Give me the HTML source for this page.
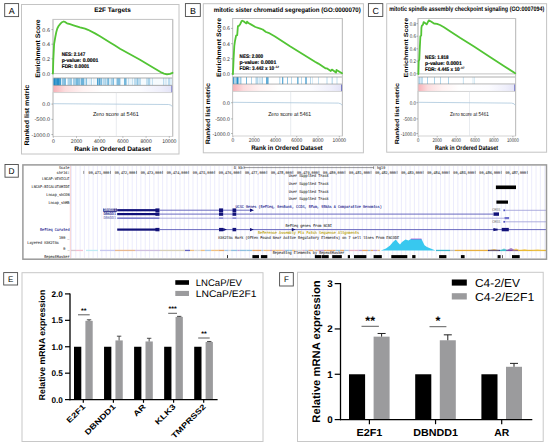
<!DOCTYPE html>
<html><head><meta charset="utf-8"><style>
html,body{margin:0;padding:0;background:#fff;width:550px;height:445px;overflow:hidden}
svg{display:block;font-family:"Liberation Sans", sans-serif;text-rendering:geometricPrecision}
</style></head><body>
<svg width="550" height="445" viewBox="0 0 550 445">
<rect width="550" height="445" fill="#fff"/>
<rect x="21.50" y="4.50" width="157.50" height="149.50" fill="#fff" stroke="#c4c4c4" stroke-width="1"/>
<rect x="4.70" y="3.60" width="13.90" height="13.00" fill="#fff" stroke="#4a4a4a" stroke-width="0.9"/>
<text x="11.65" y="13.60" font-size="8.9" text-anchor="middle" fill="#000">A</text>
<text x="94.20" y="12.20" font-size="6.4" text-anchor="start" font-weight="bold" fill="#000" textLength="36.60" lengthAdjust="spacingAndGlyphs">E2F Targets</text>
<rect x="53.00" y="19.40" width="119.70" height="54.20" fill="#fff" stroke="#c2c2c2" stroke-width="1"/>
<rect x="53.00" y="78.00" width="119.70" height="7.40" fill="#fff"/>
<rect x="52.90" y="78.00" width="2.10" height="7.40" fill="#1e8ac6"/>
<rect x="55.00" y="78.00" width="2.00" height="7.40" fill="#3f9bce"/>
<rect x="57.00" y="78.00" width="2.00" height="7.40" fill="#298fc8"/>
<rect x="59.00" y="78.00" width="2.00" height="7.40" fill="#4aa1d1"/>
<rect x="61.00" y="78.00" width="1.00" height="7.40" fill="#d9ebf6"/>
<rect x="62.00" y="78.00" width="2.00" height="7.40" fill="#90c5e3"/>
<rect x="64.00" y="78.00" width="2.00" height="7.40" fill="#7ebcdf"/>
<rect x="66.00" y="78.00" width="1.50" height="7.40" fill="#fafdff"/>
<rect x="67.50" y="78.00" width="2.50" height="7.40" fill="#aad3ea"/>
<rect x="70.00" y="78.00" width="2.00" height="7.40" fill="#99cae5"/>
<rect x="72.00" y="78.00" width="1.00" height="7.40" fill="#f1f8fc"/>
<rect x="73.00" y="78.00" width="3.00" height="7.40" fill="#a2cfe8"/>
<rect x="76.00" y="78.00" width="2.00" height="7.40" fill="#75b8dc"/>
<rect x="78.00" y="78.00" width="2.00" height="7.40" fill="#87c1e1"/>
<rect x="80.00" y="78.00" width="1.00" height="7.40" fill="#bcdcef"/>
<rect x="81.00" y="78.00" width="3.00" height="7.40" fill="#6db3da"/>
<rect x="84.00" y="78.00" width="2.00" height="7.40" fill="#c5e1f1"/>
<rect x="86.00" y="78.00" width="1.00" height="7.40" fill="#87c1e1"/>
<rect x="87.00" y="78.00" width="1.50" height="7.40" fill="#e8f3fa"/>
<rect x="88.50" y="78.00" width="2.50" height="7.40" fill="#e4f1f9"/>
<rect x="91.00" y="78.00" width="1.00" height="7.40" fill="#b3d8ec"/>
<rect x="92.00" y="78.00" width="1.50" height="7.40" fill="#fafdff"/>
<rect x="93.50" y="78.00" width="1.00" height="7.40" fill="#c5e1f1"/>
<rect x="94.50" y="78.00" width="2.50" height="7.40" fill="#f1f8fc"/>
<rect x="97.00" y="78.00" width="1.00" height="7.40" fill="#4aa1d1"/>
<rect x="98.00" y="78.00" width="1.00" height="7.40" fill="#90c5e3"/>
<rect x="99.00" y="78.00" width="1.50" height="7.40" fill="#52a5d3"/>
<rect x="100.50" y="78.00" width="2.00" height="7.40" fill="#7ebcdf"/>
<rect x="102.50" y="78.00" width="1.00" height="7.40" fill="#f1f8fc"/>
<rect x="103.50" y="78.00" width="1.00" height="7.40" fill="#75b8dc"/>
<rect x="104.50" y="78.00" width="1.00" height="7.40" fill="#bcdcef"/>
<rect x="105.50" y="78.00" width="1.00" height="7.40" fill="#75b8dc"/>
<rect x="106.50" y="78.00" width="0.50" height="7.40" fill="#d6eaf5"/>
<rect x="107.00" y="78.00" width="1.00" height="7.40" fill="#90c5e3"/>
<rect x="108.00" y="78.00" width="1.00" height="7.40" fill="#75b8dc"/>
<rect x="109.00" y="78.00" width="2.00" height="7.40" fill="#d6eaf5"/>
<rect x="111.00" y="78.00" width="2.00" height="7.40" fill="#aad3ea"/>
<rect x="113.00" y="78.00" width="1.00" height="7.40" fill="#7ebcdf"/>
<rect x="114.00" y="78.00" width="2.00" height="7.40" fill="#f1f8fc"/>
<rect x="116.00" y="78.00" width="1.00" height="7.40" fill="#bcdcef"/>
<rect x="117.00" y="78.00" width="3.00" height="7.40" fill="#7ebcdf"/>
<rect x="120.00" y="78.00" width="1.00" height="7.40" fill="#c5e1f1"/>
<rect x="121.00" y="78.00" width="3.00" height="7.40" fill="#f6fbfe"/>
<rect x="124.00" y="78.00" width="2.00" height="7.40" fill="#75b8dc"/>
<rect x="126.00" y="78.00" width="1.00" height="7.40" fill="#aad3ea"/>
<rect x="127.00" y="78.00" width="1.00" height="7.40" fill="#f1f8fc"/>
<rect x="128.00" y="78.00" width="1.00" height="7.40" fill="#c5e1f1"/>
<rect x="129.00" y="78.00" width="3.00" height="7.40" fill="#ebf5fb"/>
<rect x="132.00" y="78.00" width="1.00" height="7.40" fill="#c5e1f1"/>
<rect x="133.00" y="78.00" width="1.00" height="7.40" fill="#f1f8fc"/>
<rect x="134.00" y="78.00" width="3.00" height="7.40" fill="#bcdcef"/>
<rect x="137.00" y="78.00" width="1.00" height="7.40" fill="#90c5e3"/>
<rect x="138.00" y="78.00" width="3.00" height="7.40" fill="#bcdcef"/>
<rect x="141.00" y="78.00" width="5.00" height="7.40" fill="#f6fbfe"/>
<rect x="146.00" y="78.00" width="2.00" height="7.40" fill="#c5e1f1"/>
<rect x="148.00" y="78.00" width="2.50" height="7.40" fill="#aad3ea"/>
<rect x="150.50" y="78.00" width="1.50" height="7.40" fill="#f1f8fc"/>
<rect x="152.00" y="78.00" width="1.00" height="7.40" fill="#c5e1f1"/>
<rect x="153.00" y="78.00" width="10.00" height="7.40" fill="#f6fbfe"/>
<rect x="163.00" y="78.00" width="1.50" height="7.40" fill="#bcdcef"/>
<rect x="164.50" y="78.00" width="1.00" height="7.40" fill="#f1f8fc"/>
<rect x="165.50" y="78.00" width="1.00" height="7.40" fill="#bcdcef"/>
<rect x="167.00" y="78.00" width="1.00" height="7.40" fill="#f1f8fc"/>
<rect x="168.00" y="78.00" width="2.00" height="7.40" fill="#bcdcef"/>
<rect x="170.00" y="78.00" width="2.60" height="7.40" fill="#dfeff8"/>
<line x1="53.00" y1="78.00" x2="172.70" y2="78.00" stroke="#9a9a9a" stroke-width="0.8"/>
<line x1="53.00" y1="85.40" x2="172.70" y2="85.40" stroke="#808080" stroke-width="0.8"/>
<defs><linearGradient id="Ag" x1="0" x2="1" y1="0" y2="0"><stop offset="0" stop-color="#f7b0b6"/><stop offset="0.1" stop-color="#fcdcde"/><stop offset="0.25" stop-color="#fff3f3"/><stop offset="0.42" stop-color="#ffffff"/><stop offset="0.72" stop-color="#fcfcff"/><stop offset="0.9" stop-color="#efeffb"/><stop offset="1" stop-color="#e2e2f6"/></linearGradient></defs>
<rect x="53.00" y="85.80" width="119.70" height="6.80" fill="url(#Ag)"/>
<rect x="171.50" y="85.80" width="1.20" height="6.80" fill="#5050b8"/>
<rect x="53.00" y="92.60" width="119.70" height="43.80" fill="none" stroke="#cfcfcf" stroke-width="0.9"/>
<line x1="53.00" y1="19.40" x2="53.00" y2="136.40" stroke="#c8c8c8" stroke-width="1"/>
<line x1="172.70" y1="19.40" x2="172.70" y2="136.40" stroke="#c2c2c2" stroke-width="1.1"/>
<line x1="116.30" y1="92.60" x2="116.30" y2="136.40" stroke="#d8dde4" stroke-width="0.6"/>
<path d="M53.00,103.70 L168.70,104.50 Q171.70,104.70 172.40,106.80" fill="none" stroke="#a9c6dc" stroke-width="0.8"/>
<text x="92.90" y="116.40" font-size="5.8" text-anchor="start" fill="#111" textLength="45.90" lengthAdjust="spacingAndGlyphs">Zero score at 5461</text>
<line x1="51.40" y1="29.60" x2="53.00" y2="29.60" stroke="#777" stroke-width="0.5"/>
<text x="49.90" y="31.60" font-size="5.4" text-anchor="end" fill="#333" textLength="7.51" lengthAdjust="spacingAndGlyphs">0.6</text>
<line x1="51.40" y1="44.20" x2="53.00" y2="44.20" stroke="#777" stroke-width="0.5"/>
<text x="49.90" y="46.20" font-size="5.4" text-anchor="end" fill="#333" textLength="7.51" lengthAdjust="spacingAndGlyphs">0.4</text>
<line x1="51.40" y1="58.80" x2="53.00" y2="58.80" stroke="#777" stroke-width="0.5"/>
<text x="49.90" y="60.80" font-size="5.4" text-anchor="end" fill="#333" textLength="7.51" lengthAdjust="spacingAndGlyphs">0.2</text>
<line x1="51.40" y1="73.50" x2="53.00" y2="73.50" stroke="#777" stroke-width="0.5"/>
<text x="49.90" y="75.50" font-size="5.4" text-anchor="end" fill="#333" textLength="7.51" lengthAdjust="spacingAndGlyphs">0.0</text>
<line x1="51.40" y1="104.10" x2="53.00" y2="104.10" stroke="#777" stroke-width="0.5"/>
<text x="49.90" y="106.10" font-size="5.4" text-anchor="end" fill="#333" textLength="7.51" lengthAdjust="spacingAndGlyphs">0.0</text>
<line x1="51.40" y1="119.40" x2="53.00" y2="119.40" stroke="#777" stroke-width="0.5"/>
<text x="49.90" y="121.40" font-size="5.4" text-anchor="end" fill="#333" textLength="15.31" lengthAdjust="spacingAndGlyphs">-500.0</text>
<line x1="51.40" y1="134.50" x2="53.00" y2="134.50" stroke="#777" stroke-width="0.5"/>
<text x="49.90" y="136.50" font-size="5.4" text-anchor="end" fill="#333" textLength="18.31" lengthAdjust="spacingAndGlyphs">-1000.0</text>
<line x1="53.30" y1="136.40" x2="53.30" y2="137.80" stroke="#777" stroke-width="0.5"/>
<text x="53.30" y="143.40" font-size="5.4" text-anchor="middle" fill="#333" textLength="2.85" lengthAdjust="spacingAndGlyphs">0</text>
<line x1="76.50" y1="136.40" x2="76.50" y2="137.80" stroke="#777" stroke-width="0.5"/>
<text x="76.50" y="143.40" font-size="5.4" text-anchor="middle" fill="#333" textLength="11.41" lengthAdjust="spacingAndGlyphs">2000</text>
<line x1="99.70" y1="136.40" x2="99.70" y2="137.80" stroke="#777" stroke-width="0.5"/>
<text x="99.70" y="143.40" font-size="5.4" text-anchor="middle" fill="#333" textLength="11.41" lengthAdjust="spacingAndGlyphs">4000</text>
<line x1="122.90" y1="136.40" x2="122.90" y2="137.80" stroke="#777" stroke-width="0.5"/>
<text x="122.90" y="143.40" font-size="5.4" text-anchor="middle" fill="#333" textLength="11.41" lengthAdjust="spacingAndGlyphs">6000</text>
<line x1="146.10" y1="136.40" x2="146.10" y2="137.80" stroke="#777" stroke-width="0.5"/>
<text x="146.10" y="143.40" font-size="5.4" text-anchor="middle" fill="#333" textLength="11.41" lengthAdjust="spacingAndGlyphs">8000</text>
<line x1="169.30" y1="136.40" x2="169.30" y2="137.80" stroke="#777" stroke-width="0.5"/>
<text x="169.30" y="143.40" font-size="5.4" text-anchor="middle" fill="#333" textLength="14.26" lengthAdjust="spacingAndGlyphs">10000</text>
<text x="74.20" y="150.60" font-size="6.6" text-anchor="start" font-weight="bold" fill="#000" textLength="76.70" lengthAdjust="spacingAndGlyphs">Rank in Ordered Dataset</text>
<g transform="translate(39.80 48.60) scale(1.000 1) rotate(-90)">
<text x="0.00" y="0.00" font-size="6.6" text-anchor="middle" font-weight="bold" fill="#000" textLength="58.40" lengthAdjust="spacingAndGlyphs">Enrichment Score</text>
</g>
<g transform="translate(29.00 115.10) scale(1.000 1) rotate(-90)">
<text x="0.00" y="0.00" font-size="6.6" text-anchor="middle" font-weight="bold" fill="#000" textLength="60.80" lengthAdjust="spacingAndGlyphs">Ranked list metric</text>
</g>
<polyline points="52.90,73.50 53.30,60.00 54.10,44.20 55.30,37.00 56.30,32.00 57.30,28.50 58.60,26.00 60.50,23.60 62.00,22.20 63.60,21.50 65.00,21.90 67.00,23.30 70.00,24.20 73.50,25.30 80.00,27.30 85.00,28.60 88.00,29.80 95.00,33.40 100.00,36.30 110.00,42.50 115.00,45.60 120.00,48.70 130.00,54.30 140.00,59.80 150.00,65.70 161.80,72.70 164.00,73.60 167.00,74.30 170.00,73.80 172.50,72.80" fill="none" stroke="#52c434" stroke-width="1.8" stroke-linejoin="round" stroke-linecap="round"/>
<text x="61.70" y="56.40" font-size="5.2" text-anchor="start" font-weight="bold" fill="#000" textLength="23.50" lengthAdjust="spacingAndGlyphs" stroke="#000" stroke-width="0.15">NES: 2.147</text>
<text x="61.70" y="62.40" font-size="5.2" text-anchor="start" font-weight="bold" fill="#000" textLength="36.70" lengthAdjust="spacingAndGlyphs" stroke="#000" stroke-width="0.15">p-value: 0.0001</text>
<text x="61.70" y="68.00" font-size="5.2" text-anchor="start" font-weight="bold" fill="#000" textLength="27.60" lengthAdjust="spacingAndGlyphs" stroke="#000" stroke-width="0.15">FDR: 0.0001</text>
<rect x="203.30" y="3.70" width="160.10" height="149.10" fill="#fff" stroke="#c4c4c4" stroke-width="1"/>
<rect x="185.40" y="3.60" width="14.90" height="12.90" fill="#fff" stroke="#4a4a4a" stroke-width="0.9"/>
<text x="192.85" y="13.50" font-size="8.9" text-anchor="middle" fill="#000">B</text>
<text x="213.70" y="11.60" font-size="6.6" text-anchor="start" font-weight="bold" fill="#000" textLength="147.10" lengthAdjust="spacingAndGlyphs">mitotic sister chromatid segregation (GO:0000070)</text>
<rect x="232.60" y="18.50" width="109.80" height="55.40" fill="#fff" stroke="#c2c2c2" stroke-width="1"/>
<rect x="232.60" y="77.00" width="109.80" height="7.20" fill="#fff"/>
<rect x="232.60" y="77.00" width="1.60" height="7.20" fill="#3495cb"/>
<rect x="234.20" y="77.00" width="0.50" height="7.20" fill="#76b8dc"/>
<rect x="234.70" y="77.00" width="1.80" height="7.20" fill="#add4eb"/>
<rect x="236.50" y="77.00" width="2.20" height="7.20" fill="#298fc8"/>
<rect x="238.70" y="77.00" width="1.30" height="7.20" fill="#d9ebf6"/>
<rect x="240.00" y="77.00" width="1.50" height="7.20" fill="#a2cfe8"/>
<rect x="246.00" y="77.00" width="1.00" height="7.20" fill="#76b8dc"/>
<rect x="251.00" y="77.00" width="1.00" height="7.20" fill="#add4eb"/>
<rect x="255.00" y="77.00" width="1.00" height="7.20" fill="#d9ebf6"/>
<rect x="256.00" y="77.00" width="2.00" height="7.20" fill="#b8daed"/>
<rect x="258.00" y="77.00" width="1.50" height="7.20" fill="#e4f1f9"/>
<rect x="259.50" y="77.00" width="1.00" height="7.20" fill="#b8daed"/>
<rect x="260.50" y="77.00" width="1.50" height="7.20" fill="#d9ebf6"/>
<rect x="262.00" y="77.00" width="1.00" height="7.20" fill="#add4eb"/>
<rect x="266.00" y="77.00" width="2.00" height="7.20" fill="#60acd7"/>
<rect x="268.00" y="77.00" width="0.80" height="7.20" fill="#8cc3e2"/>
<rect x="279.00" y="77.00" width="1.00" height="7.20" fill="#c3e0f0"/>
<rect x="280.00" y="77.00" width="1.00" height="7.20" fill="#e4f1f9"/>
<rect x="282.00" y="77.00" width="1.30" height="7.20" fill="#60acd7"/>
<rect x="287.00" y="77.00" width="1.00" height="7.20" fill="#8cc3e2"/>
<rect x="291.00" y="77.00" width="1.00" height="7.20" fill="#b8daed"/>
<rect x="297.00" y="77.00" width="1.60" height="7.20" fill="#76b8dc"/>
<rect x="301.00" y="77.00" width="1.00" height="7.20" fill="#b8daed"/>
<rect x="305.20" y="77.00" width="1.60" height="7.20" fill="#60acd7"/>
<rect x="310.00" y="77.00" width="1.00" height="7.20" fill="#b8daed"/>
<rect x="312.00" y="77.00" width="1.00" height="7.20" fill="#d9ebf6"/>
<rect x="318.00" y="77.00" width="1.00" height="7.20" fill="#c3e0f0"/>
<rect x="326.50" y="77.00" width="1.00" height="7.20" fill="#b8daed"/>
<rect x="331.50" y="77.00" width="1.50" height="7.20" fill="#c3e0f0"/>
<rect x="336.50" y="77.00" width="1.00" height="7.20" fill="#c3e0f0"/>
<line x1="232.60" y1="77.00" x2="342.40" y2="77.00" stroke="#9a9a9a" stroke-width="0.8"/>
<line x1="232.60" y1="84.20" x2="342.40" y2="84.20" stroke="#808080" stroke-width="0.8"/>
<defs><linearGradient id="Bg" x1="0" x2="1" y1="0" y2="0"><stop offset="0" stop-color="#f7b0b6"/><stop offset="0.1" stop-color="#fcdcde"/><stop offset="0.25" stop-color="#fff3f3"/><stop offset="0.42" stop-color="#ffffff"/><stop offset="0.72" stop-color="#fcfcff"/><stop offset="0.9" stop-color="#efeffb"/><stop offset="1" stop-color="#e2e2f6"/></linearGradient></defs>
<rect x="232.60" y="84.60" width="109.80" height="6.80" fill="url(#Bg)"/>
<rect x="341.20" y="84.60" width="1.20" height="6.80" fill="#5050b8"/>
<rect x="232.60" y="91.40" width="109.80" height="44.60" fill="none" stroke="#cfcfcf" stroke-width="0.9"/>
<line x1="232.60" y1="18.50" x2="232.60" y2="136.00" stroke="#c8c8c8" stroke-width="1"/>
<line x1="342.40" y1="18.50" x2="342.40" y2="136.00" stroke="#c2c2c2" stroke-width="1.1"/>
<line x1="290.70" y1="91.40" x2="290.70" y2="136.00" stroke="#d8dde4" stroke-width="0.6"/>
<path d="M232.60,102.30 L338.40,103.10 Q341.40,103.30 342.10,105.40" fill="none" stroke="#a9c6dc" stroke-width="0.8"/>
<text x="268.20" y="116.00" font-size="5.8" text-anchor="start" fill="#111" textLength="43.00" lengthAdjust="spacingAndGlyphs">Zero score at 5461</text>
<line x1="231.00" y1="28.40" x2="232.60" y2="28.40" stroke="#777" stroke-width="0.5"/>
<text x="229.79" y="30.40" font-size="5.4" text-anchor="end" fill="#333" textLength="7.13" lengthAdjust="spacingAndGlyphs">0.6</text>
<line x1="231.00" y1="43.70" x2="232.60" y2="43.70" stroke="#777" stroke-width="0.5"/>
<text x="229.79" y="45.70" font-size="5.4" text-anchor="end" fill="#333" textLength="7.13" lengthAdjust="spacingAndGlyphs">0.4</text>
<line x1="231.00" y1="58.80" x2="232.60" y2="58.80" stroke="#777" stroke-width="0.5"/>
<text x="229.79" y="60.80" font-size="5.4" text-anchor="end" fill="#333" textLength="7.13" lengthAdjust="spacingAndGlyphs">0.2</text>
<line x1="231.00" y1="73.90" x2="232.60" y2="73.90" stroke="#777" stroke-width="0.5"/>
<text x="229.79" y="75.90" font-size="5.4" text-anchor="end" fill="#333" textLength="7.13" lengthAdjust="spacingAndGlyphs">0.0</text>
<line x1="231.00" y1="102.70" x2="232.60" y2="102.70" stroke="#777" stroke-width="0.5"/>
<text x="229.79" y="104.70" font-size="5.4" text-anchor="end" fill="#333" textLength="7.13" lengthAdjust="spacingAndGlyphs">0.0</text>
<line x1="231.00" y1="118.90" x2="232.60" y2="118.90" stroke="#777" stroke-width="0.5"/>
<text x="229.79" y="120.90" font-size="5.4" text-anchor="end" fill="#333" textLength="14.54" lengthAdjust="spacingAndGlyphs">-500.0</text>
<line x1="231.00" y1="133.50" x2="232.60" y2="133.50" stroke="#777" stroke-width="0.5"/>
<text x="229.79" y="135.50" font-size="5.4" text-anchor="end" fill="#333" textLength="17.40" lengthAdjust="spacingAndGlyphs">-1000.0</text>
<line x1="232.90" y1="136.00" x2="232.90" y2="137.40" stroke="#777" stroke-width="0.5"/>
<text x="232.90" y="142.20" font-size="5.4" text-anchor="middle" fill="#333" textLength="2.71" lengthAdjust="spacingAndGlyphs">0</text>
<line x1="254.18" y1="136.00" x2="254.18" y2="137.40" stroke="#777" stroke-width="0.5"/>
<text x="254.18" y="142.20" font-size="5.4" text-anchor="middle" fill="#333" textLength="10.84" lengthAdjust="spacingAndGlyphs">2000</text>
<line x1="275.46" y1="136.00" x2="275.46" y2="137.40" stroke="#777" stroke-width="0.5"/>
<text x="275.46" y="142.20" font-size="5.4" text-anchor="middle" fill="#333" textLength="10.84" lengthAdjust="spacingAndGlyphs">4000</text>
<line x1="296.74" y1="136.00" x2="296.74" y2="137.40" stroke="#777" stroke-width="0.5"/>
<text x="296.74" y="142.20" font-size="5.4" text-anchor="middle" fill="#333" textLength="10.84" lengthAdjust="spacingAndGlyphs">6000</text>
<line x1="318.02" y1="136.00" x2="318.02" y2="137.40" stroke="#777" stroke-width="0.5"/>
<text x="318.02" y="142.20" font-size="5.4" text-anchor="middle" fill="#333" textLength="10.84" lengthAdjust="spacingAndGlyphs">8000</text>
<line x1="339.30" y1="136.00" x2="339.30" y2="137.40" stroke="#777" stroke-width="0.5"/>
<text x="339.30" y="142.20" font-size="5.4" text-anchor="middle" fill="#333" textLength="13.55" lengthAdjust="spacingAndGlyphs">10000</text>
<text x="251.20" y="149.50" font-size="6.6" text-anchor="start" font-weight="bold" fill="#000" textLength="71.40" lengthAdjust="spacingAndGlyphs">Rank in Ordered Dataset</text>
<g transform="translate(220.50 47.45) scale(0.970 1) rotate(-90)">
<text x="0.00" y="0.00" font-size="6.6" text-anchor="middle" font-weight="bold" fill="#000" textLength="59.10" lengthAdjust="spacingAndGlyphs">Enrichment Score</text>
</g>
<g transform="translate(210.40 113.70) scale(0.970 1) rotate(-90)">
<text x="0.00" y="0.00" font-size="6.6" text-anchor="middle" font-weight="bold" fill="#000" textLength="61.20" lengthAdjust="spacingAndGlyphs">Ranked list metric</text>
</g>
<polyline points="232.90,74.10 233.30,66.00 233.60,58.50 234.30,46.00 235.00,41.00 236.10,35.60 237.20,35.20 237.90,26.20 239.00,25.80 240.20,24.20 241.50,21.30 242.30,20.70 243.50,21.30 245.10,22.50 246.40,23.40 247.00,21.70 248.40,23.00 251.30,24.60 255.40,27.00 260.30,28.70 262.70,29.50 266.00,32.00 268.50,32.80 275.00,36.50 290.00,46.30 315.00,61.70 318.30,63.60 325.40,68.30 326.70,68.30 330.80,71.00 331.90,69.60 336.00,72.60 336.50,69.90 342.00,73.30" fill="none" stroke="#52c434" stroke-width="1.8" stroke-linejoin="round" stroke-linecap="round"/>
<text x="239.60" y="58.20" font-size="5.2" text-anchor="start" font-weight="bold" fill="#000" textLength="23.50" lengthAdjust="spacingAndGlyphs" stroke="#000" stroke-width="0.15">NES: 2.000</text>
<text x="239.60" y="64.00" font-size="5.2" text-anchor="start" font-weight="bold" fill="#000" textLength="36.70" lengthAdjust="spacingAndGlyphs" stroke="#000" stroke-width="0.15">p-value: 0.0001</text>
<text x="239.60" y="69.60" font-size="5.2" text-anchor="start" font-weight="bold" fill="#000" textLength="34.50" lengthAdjust="spacingAndGlyphs" stroke="#000" stroke-width="0.15">FDR: 3.442 x 10</text>
<text x="274.40" y="67.60" font-size="3.2" text-anchor="start" font-weight="bold" fill="#000">-12</text>
<rect x="386.70" y="3.70" width="159.90" height="148.50" fill="#fff" stroke="#c4c4c4" stroke-width="1"/>
<rect x="368.40" y="3.60" width="14.40" height="12.90" fill="#fff" stroke="#4a4a4a" stroke-width="0.9"/>
<text x="375.60" y="13.50" font-size="8.9" text-anchor="middle" fill="#000">C</text>
<text x="389.30" y="11.40" font-size="6.5" text-anchor="start" font-weight="bold" fill="#000" textLength="155.00" lengthAdjust="spacingAndGlyphs">mitotic spindle assembly checkpoint signaling (GO:0007094)</text>
<rect x="418.00" y="18.50" width="97.60" height="55.40" fill="#fff" stroke="#c2c2c2" stroke-width="1"/>
<rect x="418.00" y="77.00" width="97.60" height="7.10" fill="#fff"/>
<rect x="418.20" y="77.00" width="1.80" height="7.10" fill="#add4eb"/>
<rect x="420.00" y="77.00" width="1.00" height="7.10" fill="#d9ebf6"/>
<rect x="421.00" y="77.00" width="2.00" height="7.10" fill="#c3e0f0"/>
<rect x="427.00" y="77.00" width="1.00" height="7.10" fill="#add4eb"/>
<rect x="434.00" y="77.00" width="1.00" height="7.10" fill="#add4eb"/>
<rect x="440.00" y="77.00" width="0.80" height="7.10" fill="#a2cfe8"/>
<rect x="448.00" y="77.00" width="1.00" height="7.10" fill="#add4eb"/>
<rect x="462.90" y="77.00" width="0.70" height="7.10" fill="#add4eb"/>
<rect x="472.60" y="77.00" width="0.80" height="7.10" fill="#cee6f3"/>
<rect x="474.20" y="77.00" width="0.80" height="7.10" fill="#cee6f3"/>
<line x1="418.00" y1="77.00" x2="515.60" y2="77.00" stroke="#9a9a9a" stroke-width="0.8"/>
<line x1="418.00" y1="84.10" x2="515.60" y2="84.10" stroke="#808080" stroke-width="0.8"/>
<defs><linearGradient id="Cg" x1="0" x2="1" y1="0" y2="0"><stop offset="0" stop-color="#f7b0b6"/><stop offset="0.1" stop-color="#fcdcde"/><stop offset="0.25" stop-color="#fff3f3"/><stop offset="0.42" stop-color="#ffffff"/><stop offset="0.72" stop-color="#fcfcff"/><stop offset="0.9" stop-color="#efeffb"/><stop offset="1" stop-color="#e2e2f6"/></linearGradient></defs>
<rect x="418.00" y="84.50" width="97.60" height="6.90" fill="url(#Cg)"/>
<rect x="514.40" y="84.50" width="1.20" height="6.90" fill="#5050b8"/>
<rect x="418.00" y="91.40" width="97.60" height="44.60" fill="none" stroke="#cfcfcf" stroke-width="0.9"/>
<line x1="418.00" y1="18.50" x2="418.00" y2="136.00" stroke="#c8c8c8" stroke-width="1"/>
<line x1="515.60" y1="18.50" x2="515.60" y2="136.00" stroke="#c2c2c2" stroke-width="1.1"/>
<line x1="469.50" y1="91.40" x2="469.50" y2="136.00" stroke="#d8dde4" stroke-width="0.6"/>
<path d="M418.00,102.30 L511.60,103.10 Q514.60,103.30 515.30,105.40" fill="none" stroke="#a9c6dc" stroke-width="0.8"/>
<text x="450.00" y="116.00" font-size="5.8" text-anchor="start" fill="#111" textLength="38.80" lengthAdjust="spacingAndGlyphs">Zero score at 5461</text>
<line x1="416.40" y1="23.60" x2="418.00" y2="23.60" stroke="#777" stroke-width="0.5"/>
<text x="415.90" y="25.60" font-size="5.4" text-anchor="end" fill="#333" textLength="6.23" lengthAdjust="spacingAndGlyphs">0.8</text>
<line x1="416.40" y1="36.20" x2="418.00" y2="36.20" stroke="#777" stroke-width="0.5"/>
<text x="415.90" y="38.20" font-size="5.4" text-anchor="end" fill="#333" textLength="6.23" lengthAdjust="spacingAndGlyphs">0.6</text>
<line x1="416.40" y1="48.80" x2="418.00" y2="48.80" stroke="#777" stroke-width="0.5"/>
<text x="415.90" y="50.80" font-size="5.4" text-anchor="end" fill="#333" textLength="6.23" lengthAdjust="spacingAndGlyphs">0.4</text>
<line x1="416.40" y1="61.10" x2="418.00" y2="61.10" stroke="#777" stroke-width="0.5"/>
<text x="415.90" y="63.10" font-size="5.4" text-anchor="end" fill="#333" textLength="6.23" lengthAdjust="spacingAndGlyphs">0.2</text>
<line x1="416.40" y1="73.70" x2="418.00" y2="73.70" stroke="#777" stroke-width="0.5"/>
<text x="415.90" y="75.70" font-size="5.4" text-anchor="end" fill="#333" textLength="6.23" lengthAdjust="spacingAndGlyphs">0.0</text>
<line x1="416.40" y1="102.70" x2="418.00" y2="102.70" stroke="#777" stroke-width="0.5"/>
<text x="415.90" y="104.70" font-size="5.4" text-anchor="end" fill="#333" textLength="6.23" lengthAdjust="spacingAndGlyphs">0.0</text>
<line x1="416.40" y1="118.90" x2="418.00" y2="118.90" stroke="#777" stroke-width="0.5"/>
<text x="415.90" y="120.90" font-size="5.4" text-anchor="end" fill="#333" textLength="12.71" lengthAdjust="spacingAndGlyphs">-500.0</text>
<line x1="416.40" y1="133.50" x2="418.00" y2="133.50" stroke="#777" stroke-width="0.5"/>
<text x="415.90" y="135.50" font-size="5.4" text-anchor="end" fill="#333" textLength="15.20" lengthAdjust="spacingAndGlyphs">-1000.0</text>
<line x1="418.30" y1="136.00" x2="418.30" y2="137.40" stroke="#777" stroke-width="0.5"/>
<text x="418.30" y="142.20" font-size="5.4" text-anchor="middle" fill="#333" textLength="2.37" lengthAdjust="spacingAndGlyphs">0</text>
<line x1="437.22" y1="136.00" x2="437.22" y2="137.40" stroke="#777" stroke-width="0.5"/>
<text x="437.22" y="142.20" font-size="5.4" text-anchor="middle" fill="#333" textLength="9.47" lengthAdjust="spacingAndGlyphs">2000</text>
<line x1="456.14" y1="136.00" x2="456.14" y2="137.40" stroke="#777" stroke-width="0.5"/>
<text x="456.14" y="142.20" font-size="5.4" text-anchor="middle" fill="#333" textLength="9.47" lengthAdjust="spacingAndGlyphs">4000</text>
<line x1="475.06" y1="136.00" x2="475.06" y2="137.40" stroke="#777" stroke-width="0.5"/>
<text x="475.06" y="142.20" font-size="5.4" text-anchor="middle" fill="#333" textLength="9.47" lengthAdjust="spacingAndGlyphs">6000</text>
<line x1="493.98" y1="136.00" x2="493.98" y2="137.40" stroke="#777" stroke-width="0.5"/>
<text x="493.98" y="142.20" font-size="5.4" text-anchor="middle" fill="#333" textLength="9.47" lengthAdjust="spacingAndGlyphs">8000</text>
<line x1="512.90" y1="136.00" x2="512.90" y2="137.40" stroke="#777" stroke-width="0.5"/>
<text x="512.90" y="142.20" font-size="5.4" text-anchor="middle" fill="#333" textLength="11.84" lengthAdjust="spacingAndGlyphs">10000</text>
<text x="435.10" y="149.50" font-size="6.6" text-anchor="start" font-weight="bold" fill="#000" textLength="63.00" lengthAdjust="spacingAndGlyphs">Rank in Ordered Dataset</text>
<g transform="translate(408.10 47.70) scale(0.900 1) rotate(-90)">
<text x="0.00" y="0.00" font-size="6.6" text-anchor="middle" font-weight="bold" fill="#000" textLength="59.60" lengthAdjust="spacingAndGlyphs">Enrichment Score</text>
</g>
<g transform="translate(398.90 113.70) scale(0.900 1) rotate(-90)">
<text x="0.00" y="0.00" font-size="6.6" text-anchor="middle" font-weight="bold" fill="#000" textLength="61.20" lengthAdjust="spacingAndGlyphs">Ranked list metric</text>
</g>
<polyline points="418.40,74.00 418.60,66.00 418.70,61.40 419.30,59.20 419.60,52.00 419.80,48.00 420.20,40.00 420.40,36.20 421.20,35.50 421.40,28.00 421.80,25.90 423.00,24.60 423.60,22.10 425.00,23.00 426.70,24.40 428.80,20.40 431.00,21.50 434.00,23.50 437.00,23.80 440.00,25.00 444.00,27.20 450.00,31.20 460.00,37.80 474.00,46.60 490.00,57.00 505.00,66.70 515.20,73.30" fill="none" stroke="#52c434" stroke-width="1.8" stroke-linejoin="round" stroke-linecap="round"/>
<text x="425.10" y="59.30" font-size="5.2" text-anchor="start" font-weight="bold" fill="#000" textLength="23.50" lengthAdjust="spacingAndGlyphs" stroke="#000" stroke-width="0.15">NES: 1.818</text>
<text x="425.10" y="64.80" font-size="5.2" text-anchor="start" font-weight="bold" fill="#000" textLength="36.70" lengthAdjust="spacingAndGlyphs" stroke="#000" stroke-width="0.15">p-value: 0.0001</text>
<text x="425.10" y="70.70" font-size="5.2" text-anchor="start" font-weight="bold" fill="#000" textLength="34.50" lengthAdjust="spacingAndGlyphs" stroke="#000" stroke-width="0.15">FDR: 4.445 x 10</text>
<text x="459.90" y="68.70" font-size="3.2" text-anchor="start" font-weight="bold" fill="#000">-07</text>
<rect x="5.00" y="164.50" width="13.30" height="12.70" fill="#fff" stroke="#4a4a4a" stroke-width="0.9"/>
<text x="11.65" y="173.90" font-size="8.4" text-anchor="middle" fill="#000">D</text>
<rect x="23.00" y="164.80" width="523.50" height="94.10" fill="#fff"/>
<line x1="71.42" y1="165.80" x2="71.42" y2="257.90" stroke="#e4e4fa" stroke-width="0.7"/>
<line x1="75.76" y1="165.80" x2="75.76" y2="257.90" stroke="#e4e4fa" stroke-width="0.7"/>
<line x1="80.11" y1="165.80" x2="80.11" y2="257.90" stroke="#e4e4fa" stroke-width="0.7"/>
<line x1="84.45" y1="165.80" x2="84.45" y2="257.90" stroke="#e4e4fa" stroke-width="0.7"/>
<line x1="88.79" y1="165.80" x2="88.79" y2="257.90" stroke="#e4e4fa" stroke-width="0.7"/>
<line x1="93.13" y1="165.80" x2="93.13" y2="257.90" stroke="#e4e4fa" stroke-width="0.7"/>
<line x1="97.47" y1="165.80" x2="97.47" y2="257.90" stroke="#e4e4fa" stroke-width="0.7"/>
<line x1="101.82" y1="165.80" x2="101.82" y2="257.90" stroke="#e4e4fa" stroke-width="0.7"/>
<line x1="106.16" y1="165.80" x2="106.16" y2="257.90" stroke="#e4e4fa" stroke-width="0.7"/>
<line x1="110.50" y1="165.80" x2="110.50" y2="257.90" stroke="#e4e4fa" stroke-width="0.7"/>
<line x1="114.84" y1="165.80" x2="114.84" y2="257.90" stroke="#e4e4fa" stroke-width="0.7"/>
<line x1="119.18" y1="165.80" x2="119.18" y2="257.90" stroke="#e4e4fa" stroke-width="0.7"/>
<line x1="123.53" y1="165.80" x2="123.53" y2="257.90" stroke="#e4e4fa" stroke-width="0.7"/>
<line x1="127.87" y1="165.80" x2="127.87" y2="257.90" stroke="#e4e4fa" stroke-width="0.7"/>
<line x1="132.21" y1="165.80" x2="132.21" y2="257.90" stroke="#e4e4fa" stroke-width="0.7"/>
<line x1="136.55" y1="165.80" x2="136.55" y2="257.90" stroke="#e4e4fa" stroke-width="0.7"/>
<line x1="140.89" y1="165.80" x2="140.89" y2="257.90" stroke="#e4e4fa" stroke-width="0.7"/>
<line x1="145.24" y1="165.80" x2="145.24" y2="257.90" stroke="#e4e4fa" stroke-width="0.7"/>
<line x1="149.58" y1="165.80" x2="149.58" y2="257.90" stroke="#e4e4fa" stroke-width="0.7"/>
<line x1="153.92" y1="165.80" x2="153.92" y2="257.90" stroke="#e4e4fa" stroke-width="0.7"/>
<line x1="158.26" y1="165.80" x2="158.26" y2="257.90" stroke="#e4e4fa" stroke-width="0.7"/>
<line x1="162.60" y1="165.80" x2="162.60" y2="257.90" stroke="#e4e4fa" stroke-width="0.7"/>
<line x1="166.95" y1="165.80" x2="166.95" y2="257.90" stroke="#e4e4fa" stroke-width="0.7"/>
<line x1="171.29" y1="165.80" x2="171.29" y2="257.90" stroke="#e4e4fa" stroke-width="0.7"/>
<line x1="175.63" y1="165.80" x2="175.63" y2="257.90" stroke="#e4e4fa" stroke-width="0.7"/>
<line x1="179.97" y1="165.80" x2="179.97" y2="257.90" stroke="#e4e4fa" stroke-width="0.7"/>
<line x1="184.31" y1="165.80" x2="184.31" y2="257.90" stroke="#e4e4fa" stroke-width="0.7"/>
<line x1="188.66" y1="165.80" x2="188.66" y2="257.90" stroke="#e4e4fa" stroke-width="0.7"/>
<line x1="193.00" y1="165.80" x2="193.00" y2="257.90" stroke="#e4e4fa" stroke-width="0.7"/>
<line x1="197.34" y1="165.80" x2="197.34" y2="257.90" stroke="#e4e4fa" stroke-width="0.7"/>
<line x1="201.68" y1="165.80" x2="201.68" y2="257.90" stroke="#e4e4fa" stroke-width="0.7"/>
<line x1="206.02" y1="165.80" x2="206.02" y2="257.90" stroke="#e4e4fa" stroke-width="0.7"/>
<line x1="210.37" y1="165.80" x2="210.37" y2="257.90" stroke="#e4e4fa" stroke-width="0.7"/>
<line x1="214.71" y1="165.80" x2="214.71" y2="257.90" stroke="#e4e4fa" stroke-width="0.7"/>
<line x1="219.05" y1="165.80" x2="219.05" y2="257.90" stroke="#e4e4fa" stroke-width="0.7"/>
<line x1="223.39" y1="165.80" x2="223.39" y2="257.90" stroke="#e4e4fa" stroke-width="0.7"/>
<line x1="227.73" y1="165.80" x2="227.73" y2="257.90" stroke="#e4e4fa" stroke-width="0.7"/>
<line x1="232.08" y1="165.80" x2="232.08" y2="257.90" stroke="#e4e4fa" stroke-width="0.7"/>
<line x1="236.42" y1="165.80" x2="236.42" y2="257.90" stroke="#e4e4fa" stroke-width="0.7"/>
<line x1="240.76" y1="165.80" x2="240.76" y2="257.90" stroke="#e4e4fa" stroke-width="0.7"/>
<line x1="245.10" y1="165.80" x2="245.10" y2="257.90" stroke="#e4e4fa" stroke-width="0.7"/>
<line x1="249.44" y1="165.80" x2="249.44" y2="257.90" stroke="#e4e4fa" stroke-width="0.7"/>
<line x1="253.79" y1="165.80" x2="253.79" y2="257.90" stroke="#e4e4fa" stroke-width="0.7"/>
<line x1="258.13" y1="165.80" x2="258.13" y2="257.90" stroke="#e4e4fa" stroke-width="0.7"/>
<line x1="262.47" y1="165.80" x2="262.47" y2="257.90" stroke="#e4e4fa" stroke-width="0.7"/>
<line x1="266.81" y1="165.80" x2="266.81" y2="257.90" stroke="#e4e4fa" stroke-width="0.7"/>
<line x1="271.15" y1="165.80" x2="271.15" y2="257.90" stroke="#e4e4fa" stroke-width="0.7"/>
<line x1="275.50" y1="165.80" x2="275.50" y2="257.90" stroke="#e4e4fa" stroke-width="0.7"/>
<line x1="279.84" y1="165.80" x2="279.84" y2="257.90" stroke="#e4e4fa" stroke-width="0.7"/>
<line x1="284.18" y1="165.80" x2="284.18" y2="257.90" stroke="#e4e4fa" stroke-width="0.7"/>
<line x1="288.52" y1="165.80" x2="288.52" y2="257.90" stroke="#e4e4fa" stroke-width="0.7"/>
<line x1="292.86" y1="165.80" x2="292.86" y2="257.90" stroke="#e4e4fa" stroke-width="0.7"/>
<line x1="297.21" y1="165.80" x2="297.21" y2="257.90" stroke="#e4e4fa" stroke-width="0.7"/>
<line x1="301.55" y1="165.80" x2="301.55" y2="257.90" stroke="#e4e4fa" stroke-width="0.7"/>
<line x1="305.89" y1="165.80" x2="305.89" y2="257.90" stroke="#e4e4fa" stroke-width="0.7"/>
<line x1="310.23" y1="165.80" x2="310.23" y2="257.90" stroke="#e4e4fa" stroke-width="0.7"/>
<line x1="314.57" y1="165.80" x2="314.57" y2="257.90" stroke="#e4e4fa" stroke-width="0.7"/>
<line x1="318.92" y1="165.80" x2="318.92" y2="257.90" stroke="#e4e4fa" stroke-width="0.7"/>
<line x1="323.26" y1="165.80" x2="323.26" y2="257.90" stroke="#e4e4fa" stroke-width="0.7"/>
<line x1="327.60" y1="165.80" x2="327.60" y2="257.90" stroke="#e4e4fa" stroke-width="0.7"/>
<line x1="331.94" y1="165.80" x2="331.94" y2="257.90" stroke="#e4e4fa" stroke-width="0.7"/>
<line x1="336.28" y1="165.80" x2="336.28" y2="257.90" stroke="#e4e4fa" stroke-width="0.7"/>
<line x1="340.63" y1="165.80" x2="340.63" y2="257.90" stroke="#e4e4fa" stroke-width="0.7"/>
<line x1="344.97" y1="165.80" x2="344.97" y2="257.90" stroke="#e4e4fa" stroke-width="0.7"/>
<line x1="349.31" y1="165.80" x2="349.31" y2="257.90" stroke="#e4e4fa" stroke-width="0.7"/>
<line x1="353.65" y1="165.80" x2="353.65" y2="257.90" stroke="#e4e4fa" stroke-width="0.7"/>
<line x1="357.99" y1="165.80" x2="357.99" y2="257.90" stroke="#e4e4fa" stroke-width="0.7"/>
<line x1="362.34" y1="165.80" x2="362.34" y2="257.90" stroke="#e4e4fa" stroke-width="0.7"/>
<line x1="366.68" y1="165.80" x2="366.68" y2="257.90" stroke="#e4e4fa" stroke-width="0.7"/>
<line x1="371.02" y1="165.80" x2="371.02" y2="257.90" stroke="#e4e4fa" stroke-width="0.7"/>
<line x1="375.36" y1="165.80" x2="375.36" y2="257.90" stroke="#e4e4fa" stroke-width="0.7"/>
<line x1="379.70" y1="165.80" x2="379.70" y2="257.90" stroke="#e4e4fa" stroke-width="0.7"/>
<line x1="384.05" y1="165.80" x2="384.05" y2="257.90" stroke="#e4e4fa" stroke-width="0.7"/>
<line x1="388.39" y1="165.80" x2="388.39" y2="257.90" stroke="#e4e4fa" stroke-width="0.7"/>
<line x1="392.73" y1="165.80" x2="392.73" y2="257.90" stroke="#e4e4fa" stroke-width="0.7"/>
<line x1="397.07" y1="165.80" x2="397.07" y2="257.90" stroke="#e4e4fa" stroke-width="0.7"/>
<line x1="401.41" y1="165.80" x2="401.41" y2="257.90" stroke="#e4e4fa" stroke-width="0.7"/>
<line x1="405.76" y1="165.80" x2="405.76" y2="257.90" stroke="#e4e4fa" stroke-width="0.7"/>
<line x1="410.10" y1="165.80" x2="410.10" y2="257.90" stroke="#e4e4fa" stroke-width="0.7"/>
<line x1="414.44" y1="165.80" x2="414.44" y2="257.90" stroke="#e4e4fa" stroke-width="0.7"/>
<line x1="418.78" y1="165.80" x2="418.78" y2="257.90" stroke="#e4e4fa" stroke-width="0.7"/>
<line x1="423.12" y1="165.80" x2="423.12" y2="257.90" stroke="#e4e4fa" stroke-width="0.7"/>
<line x1="427.47" y1="165.80" x2="427.47" y2="257.90" stroke="#e4e4fa" stroke-width="0.7"/>
<line x1="431.81" y1="165.80" x2="431.81" y2="257.90" stroke="#e4e4fa" stroke-width="0.7"/>
<line x1="436.15" y1="165.80" x2="436.15" y2="257.90" stroke="#e4e4fa" stroke-width="0.7"/>
<line x1="440.49" y1="165.80" x2="440.49" y2="257.90" stroke="#e4e4fa" stroke-width="0.7"/>
<line x1="444.83" y1="165.80" x2="444.83" y2="257.90" stroke="#e4e4fa" stroke-width="0.7"/>
<line x1="449.18" y1="165.80" x2="449.18" y2="257.90" stroke="#e4e4fa" stroke-width="0.7"/>
<line x1="453.52" y1="165.80" x2="453.52" y2="257.90" stroke="#e4e4fa" stroke-width="0.7"/>
<line x1="457.86" y1="165.80" x2="457.86" y2="257.90" stroke="#e4e4fa" stroke-width="0.7"/>
<line x1="462.20" y1="165.80" x2="462.20" y2="257.90" stroke="#e4e4fa" stroke-width="0.7"/>
<line x1="466.54" y1="165.80" x2="466.54" y2="257.90" stroke="#e4e4fa" stroke-width="0.7"/>
<line x1="470.89" y1="165.80" x2="470.89" y2="257.90" stroke="#e4e4fa" stroke-width="0.7"/>
<line x1="475.23" y1="165.80" x2="475.23" y2="257.90" stroke="#e4e4fa" stroke-width="0.7"/>
<line x1="479.57" y1="165.80" x2="479.57" y2="257.90" stroke="#e4e4fa" stroke-width="0.7"/>
<line x1="483.91" y1="165.80" x2="483.91" y2="257.90" stroke="#e4e4fa" stroke-width="0.7"/>
<line x1="488.25" y1="165.80" x2="488.25" y2="257.90" stroke="#e4e4fa" stroke-width="0.7"/>
<line x1="492.60" y1="165.80" x2="492.60" y2="257.90" stroke="#e4e4fa" stroke-width="0.7"/>
<line x1="496.94" y1="165.80" x2="496.94" y2="257.90" stroke="#e4e4fa" stroke-width="0.7"/>
<line x1="501.28" y1="165.80" x2="501.28" y2="257.90" stroke="#e4e4fa" stroke-width="0.7"/>
<line x1="505.62" y1="165.80" x2="505.62" y2="257.90" stroke="#e4e4fa" stroke-width="0.7"/>
<line x1="509.96" y1="165.80" x2="509.96" y2="257.90" stroke="#e4e4fa" stroke-width="0.7"/>
<line x1="514.31" y1="165.80" x2="514.31" y2="257.90" stroke="#e4e4fa" stroke-width="0.7"/>
<line x1="518.65" y1="165.80" x2="518.65" y2="257.90" stroke="#e4e4fa" stroke-width="0.7"/>
<line x1="522.99" y1="165.80" x2="522.99" y2="257.90" stroke="#e4e4fa" stroke-width="0.7"/>
<line x1="527.33" y1="165.80" x2="527.33" y2="257.90" stroke="#e4e4fa" stroke-width="0.7"/>
<line x1="531.67" y1="165.80" x2="531.67" y2="257.90" stroke="#e4e4fa" stroke-width="0.7"/>
<line x1="536.02" y1="165.80" x2="536.02" y2="257.90" stroke="#e4e4fa" stroke-width="0.7"/>
<line x1="540.36" y1="165.80" x2="540.36" y2="257.90" stroke="#e4e4fa" stroke-width="0.7"/>
<line x1="544.70" y1="165.80" x2="544.70" y2="257.90" stroke="#e4e4fa" stroke-width="0.7"/>
<line x1="70.30" y1="165.30" x2="70.30" y2="258.40" stroke="#f2b0b0" stroke-width="0.6"/>
<text x="58.95" y="168.80" font-family='"Liberation Mono", monospace' font-size="4.08" text-anchor="start" fill="#3a3a3a" stroke="#3a3a3a" stroke-width="0.1" textLength="10.55" lengthAdjust="spacingAndGlyphs">Scale</text>
<text x="56.84" y="173.60" font-family='"Liberation Mono", monospace' font-size="4.08" text-anchor="start" fill="#3a3a3a" stroke="#3a3a3a" stroke-width="0.1" textLength="12.66" lengthAdjust="spacingAndGlyphs">chr16:</text>
<text x="42.07" y="180.40" font-family='"Liberation Mono", monospace' font-size="4.08" text-anchor="start" fill="#3a3a3a" stroke="#3a3a3a" stroke-width="0.1" textLength="27.43" lengthAdjust="spacingAndGlyphs">LNCAP-VEHICLE</text>
<text x="31.52" y="188.20" font-family='"Liberation Mono", monospace' font-size="4.08" text-anchor="start" fill="#3a3a3a" stroke="#3a3a3a" stroke-width="0.1" textLength="37.98" lengthAdjust="spacingAndGlyphs">LNCAP-BICALUTAMIDE</text>
<text x="46.29" y="196.10" font-family='"Liberation Mono", monospace' font-size="4.08" text-anchor="start" fill="#3a3a3a" stroke="#3a3a3a" stroke-width="0.1" textLength="23.21" lengthAdjust="spacingAndGlyphs">Lncap_shCON</text>
<text x="48.40" y="203.90" font-family='"Liberation Mono", monospace' font-size="4.08" text-anchor="start" fill="#3a3a3a" stroke="#3a3a3a" stroke-width="0.1" textLength="21.10" lengthAdjust="spacingAndGlyphs">Lncap_shMB</text>
<text x="39.96" y="230.70" font-family='"Liberation Mono", monospace' font-size="4.08" text-anchor="start" fill="#1a1a8c" stroke="#1a1a8c" stroke-width="0.1" textLength="29.54" lengthAdjust="spacingAndGlyphs">RefSeq Curated</text>
<text x="58.95" y="238.70" font-family='"Liberation Mono", monospace' font-size="4.08" text-anchor="start" fill="#3a3a3a" stroke="#3a3a3a" stroke-width="0.1" textLength="10.55" lengthAdjust="spacingAndGlyphs">100 _</text>
<text x="63.17" y="250.20" font-family='"Liberation Mono", monospace' font-size="4.08" text-anchor="start" fill="#3a3a3a" stroke="#3a3a3a" stroke-width="0.1" textLength="6.33" lengthAdjust="spacingAndGlyphs">0 _</text>
<text x="27.30" y="243.90" font-family='"Liberation Mono", monospace' font-size="4.08" text-anchor="start" fill="#3a3a3a" stroke="#3a3a3a" stroke-width="0.1" textLength="31.65" lengthAdjust="spacingAndGlyphs">Layered H3K27Ac</text>
<text x="44.18" y="257.90" font-family='"Liberation Mono", monospace' font-size="4.08" text-anchor="start" fill="#3a3a3a" stroke="#3a3a3a" stroke-width="0.1" textLength="25.32" lengthAdjust="spacingAndGlyphs">RepeatMasker</text>
<text x="233.80" y="168.80" font-family='"Liberation Mono", monospace' font-size="4.08" text-anchor="start" fill="#3a3a3a" stroke="#3a3a3a" stroke-width="0.1" textLength="8.90" lengthAdjust="spacingAndGlyphs">5 kb</text>
<line x1="244.00" y1="167.60" x2="373.60" y2="167.60" stroke="#333" stroke-width="0.5"/>
<line x1="244.00" y1="166.20" x2="244.00" y2="169.00" stroke="#333" stroke-width="0.5"/>
<line x1="373.60" y1="166.20" x2="373.60" y2="169.00" stroke="#333" stroke-width="0.5"/>
<text x="377.00" y="168.80" font-family='"Liberation Mono", monospace' font-size="4.08" text-anchor="start" fill="#3a3a3a" stroke="#3a3a3a" stroke-width="0.1" textLength="8.20" lengthAdjust="spacingAndGlyphs">hg19</text>
<line x1="83.70" y1="170.90" x2="83.70" y2="173.90" stroke="#333" stroke-width="0.5"/>
<text x="88.60" y="173.60" font-family='"Liberation Mono", monospace' font-size="4.08" text-anchor="start" fill="#3a3a3a" stroke="#3a3a3a" stroke-width="0.1" textLength="20.80" lengthAdjust="spacingAndGlyphs">90,471,000</text>
<line x1="110.50" y1="170.90" x2="110.50" y2="173.90" stroke="#333" stroke-width="0.5"/>
<text x="114.65" y="173.60" font-family='"Liberation Mono", monospace' font-size="4.08" text-anchor="start" fill="#3a3a3a" stroke="#3a3a3a" stroke-width="0.1" textLength="20.80" lengthAdjust="spacingAndGlyphs">90,472,000</text>
<line x1="136.55" y1="170.90" x2="136.55" y2="173.90" stroke="#333" stroke-width="0.5"/>
<text x="140.70" y="173.60" font-family='"Liberation Mono", monospace' font-size="4.08" text-anchor="start" fill="#3a3a3a" stroke="#3a3a3a" stroke-width="0.1" textLength="20.80" lengthAdjust="spacingAndGlyphs">90,473,000</text>
<line x1="162.60" y1="170.90" x2="162.60" y2="173.90" stroke="#333" stroke-width="0.5"/>
<text x="166.75" y="173.60" font-family='"Liberation Mono", monospace' font-size="4.08" text-anchor="start" fill="#3a3a3a" stroke="#3a3a3a" stroke-width="0.1" textLength="20.80" lengthAdjust="spacingAndGlyphs">90,474,000</text>
<line x1="188.65" y1="170.90" x2="188.65" y2="173.90" stroke="#333" stroke-width="0.5"/>
<text x="192.80" y="173.60" font-family='"Liberation Mono", monospace' font-size="4.08" text-anchor="start" fill="#3a3a3a" stroke="#3a3a3a" stroke-width="0.1" textLength="20.80" lengthAdjust="spacingAndGlyphs">90,475,000</text>
<line x1="214.70" y1="170.90" x2="214.70" y2="173.90" stroke="#333" stroke-width="0.5"/>
<text x="218.85" y="173.60" font-family='"Liberation Mono", monospace' font-size="4.08" text-anchor="start" fill="#3a3a3a" stroke="#3a3a3a" stroke-width="0.1" textLength="20.80" lengthAdjust="spacingAndGlyphs">90,476,000</text>
<line x1="240.75" y1="170.90" x2="240.75" y2="173.90" stroke="#333" stroke-width="0.5"/>
<text x="244.90" y="173.60" font-family='"Liberation Mono", monospace' font-size="4.08" text-anchor="start" fill="#3a3a3a" stroke="#3a3a3a" stroke-width="0.1" textLength="20.80" lengthAdjust="spacingAndGlyphs">90,477,000</text>
<line x1="266.80" y1="170.90" x2="266.80" y2="173.90" stroke="#333" stroke-width="0.5"/>
<text x="270.95" y="173.60" font-family='"Liberation Mono", monospace' font-size="4.08" text-anchor="start" fill="#3a3a3a" stroke="#3a3a3a" stroke-width="0.1" textLength="20.80" lengthAdjust="spacingAndGlyphs">90,478,000</text>
<line x1="292.85" y1="170.90" x2="292.85" y2="173.90" stroke="#333" stroke-width="0.5"/>
<text x="297.00" y="173.60" font-family='"Liberation Mono", monospace' font-size="4.08" text-anchor="start" fill="#3a3a3a" stroke="#3a3a3a" stroke-width="0.1" textLength="20.80" lengthAdjust="spacingAndGlyphs">90,479,000</text>
<line x1="318.90" y1="170.90" x2="318.90" y2="173.90" stroke="#333" stroke-width="0.5"/>
<text x="323.05" y="173.60" font-family='"Liberation Mono", monospace' font-size="4.08" text-anchor="start" fill="#3a3a3a" stroke="#3a3a3a" stroke-width="0.1" textLength="20.80" lengthAdjust="spacingAndGlyphs">90,480,000</text>
<line x1="344.95" y1="170.90" x2="344.95" y2="173.90" stroke="#333" stroke-width="0.5"/>
<text x="349.10" y="173.60" font-family='"Liberation Mono", monospace' font-size="4.08" text-anchor="start" fill="#3a3a3a" stroke="#3a3a3a" stroke-width="0.1" textLength="20.80" lengthAdjust="spacingAndGlyphs">90,481,000</text>
<line x1="371.00" y1="170.90" x2="371.00" y2="173.90" stroke="#333" stroke-width="0.5"/>
<text x="375.15" y="173.60" font-family='"Liberation Mono", monospace' font-size="4.08" text-anchor="start" fill="#3a3a3a" stroke="#3a3a3a" stroke-width="0.1" textLength="20.80" lengthAdjust="spacingAndGlyphs">90,482,000</text>
<line x1="397.05" y1="170.90" x2="397.05" y2="173.90" stroke="#333" stroke-width="0.5"/>
<text x="401.20" y="173.60" font-family='"Liberation Mono", monospace' font-size="4.08" text-anchor="start" fill="#3a3a3a" stroke="#3a3a3a" stroke-width="0.1" textLength="20.80" lengthAdjust="spacingAndGlyphs">90,483,000</text>
<line x1="423.10" y1="170.90" x2="423.10" y2="173.90" stroke="#333" stroke-width="0.5"/>
<text x="427.25" y="173.60" font-family='"Liberation Mono", monospace' font-size="4.08" text-anchor="start" fill="#3a3a3a" stroke="#3a3a3a" stroke-width="0.1" textLength="20.80" lengthAdjust="spacingAndGlyphs">90,484,000</text>
<line x1="449.15" y1="170.90" x2="449.15" y2="173.90" stroke="#333" stroke-width="0.5"/>
<text x="453.30" y="173.60" font-family='"Liberation Mono", monospace' font-size="4.08" text-anchor="start" fill="#3a3a3a" stroke="#3a3a3a" stroke-width="0.1" textLength="20.80" lengthAdjust="spacingAndGlyphs">90,485,000</text>
<line x1="475.20" y1="170.90" x2="475.20" y2="173.90" stroke="#333" stroke-width="0.5"/>
<text x="479.35" y="173.60" font-family='"Liberation Mono", monospace' font-size="4.08" text-anchor="start" fill="#3a3a3a" stroke="#3a3a3a" stroke-width="0.1" textLength="20.80" lengthAdjust="spacingAndGlyphs">90,486,000</text>
<line x1="501.25" y1="170.90" x2="501.25" y2="173.90" stroke="#333" stroke-width="0.5"/>
<text x="505.40" y="173.60" font-family='"Liberation Mono", monospace' font-size="4.08" text-anchor="start" fill="#3a3a3a" stroke="#3a3a3a" stroke-width="0.1" textLength="20.80" lengthAdjust="spacingAndGlyphs">90,487,000</text>
<line x1="527.30" y1="170.90" x2="527.30" y2="173.90" stroke="#333" stroke-width="0.5"/>
<text x="288.70" y="177.20" font-family='"Liberation Mono", monospace' font-size="4.08" text-anchor="start" fill="#3a3a3a" stroke="#3a3a3a" stroke-width="0.1" textLength="40.00" lengthAdjust="spacingAndGlyphs">User Supplied Track</text>
<text x="288.70" y="184.80" font-family='"Liberation Mono", monospace' font-size="4.08" text-anchor="start" fill="#3a3a3a" stroke="#3a3a3a" stroke-width="0.1" textLength="40.00" lengthAdjust="spacingAndGlyphs">User Supplied Track</text>
<text x="288.70" y="192.50" font-family='"Liberation Mono", monospace' font-size="4.08" text-anchor="start" fill="#3a3a3a" stroke="#3a3a3a" stroke-width="0.1" textLength="40.00" lengthAdjust="spacingAndGlyphs">User Supplied Track</text>
<text x="288.70" y="199.90" font-family='"Liberation Mono", monospace' font-size="4.08" text-anchor="start" fill="#3a3a3a" stroke="#3a3a3a" stroke-width="0.1" textLength="40.00" lengthAdjust="spacingAndGlyphs">User Supplied Track</text>
<rect x="495.90" y="185.50" width="20.10" height="3.60" fill="#000"/>
<rect x="496.40" y="200.50" width="11.60" height="3.20" fill="#000"/>
<text x="235.50" y="207.50" font-family='"Liberation Mono", monospace' font-size="4.08" text-anchor="start" fill="#1a1a8c" stroke="#1a1a8c" stroke-width="0.1" textLength="146.30" lengthAdjust="spacingAndGlyphs">UCSC Genes (RefSeq, GenBank, CCDS, Rfam, tRNAs &amp; Comparative Genomics)</text>
<rect x="103.20" y="208.50" width="13.60" height="3.30" fill="#12127a"/>
<text x="103.80" y="211.40" font-family='"Liberation Mono", monospace' font-size="4.08" text-anchor="start" fill="#fff" stroke="#fff" stroke-width="0.1" textLength="12.40" lengthAdjust="spacingAndGlyphs">DBNDD1</text>
<rect x="117.20" y="209.10" width="39.60" height="2.20" fill="#12127a"/>
<line x1="159.50" y1="210.20" x2="250.00" y2="210.20" stroke="#5a5ab8" stroke-width="0.9"/>
<rect x="155.40" y="208.40" width="4.10" height="3.60" fill="#12127a"/>
<rect x="219.00" y="208.40" width="4.10" height="3.60" fill="#12127a"/>
<rect x="232.50" y="208.40" width="3.70" height="3.60" fill="#12127a"/>
<path d="M250,208.4 L254,210.2 L250,212 Z" fill="#12127a"/>
<rect x="250.00" y="209.40" width="2.00" height="1.60" fill="#12127a"/>
<text x="103.40" y="215.30" font-family='"Liberation Mono", monospace' font-size="4.08" text-anchor="start" fill="#1a1a8c" stroke="#1a1a8c" stroke-width="0.1" textLength="12.60" lengthAdjust="spacingAndGlyphs">DBNDD1</text>
<rect x="117.20" y="213.00" width="39.60" height="2.20" fill="#12127a"/>
<line x1="159.50" y1="214.10" x2="493.50" y2="214.10" stroke="#5a5ab8" stroke-width="0.9"/>
<rect x="155.40" y="212.40" width="4.10" height="3.40" fill="#12127a"/>
<rect x="219.00" y="212.40" width="4.10" height="3.40" fill="#12127a"/>
<rect x="232.50" y="212.40" width="3.70" height="3.40" fill="#12127a"/>
<path d="M493.5,212.4 L499,212.4 L499,215.8 L493.5,215.8 Z" fill="#12127a"/>
<text x="103.40" y="219.40" font-family='"Liberation Mono", monospace' font-size="4.08" text-anchor="start" fill="#8080c0" stroke="#8080c0" stroke-width="0.1" textLength="12.60" lengthAdjust="spacingAndGlyphs">DBNDD1</text>
<rect x="117.20" y="217.40" width="42.30" height="1.60" fill="#7b7bcc"/>
<line x1="159.50" y1="218.20" x2="504.50" y2="218.20" stroke="#9a9ad6" stroke-width="0.8"/>
<rect x="219.00" y="217.40" width="4.10" height="1.60" fill="#8c8cd6"/>
<rect x="232.50" y="217.40" width="3.70" height="1.60" fill="#8c8cd6"/>
<rect x="504.50" y="217.00" width="4.60" height="2.20" fill="#7070cc"/>
<text x="492.20" y="210.80" font-family='"Liberation Mono", monospace' font-size="4.08" text-anchor="start" fill="#888" stroke="#888" stroke-width="0.1" textLength="8.00" lengthAdjust="spacingAndGlyphs">CMSS</text>
<rect x="503.40" y="209.40" width="1.60" height="1.80" fill="#5050c0"/>
<line x1="505.00" y1="210.30" x2="546.00" y2="210.30" stroke="#9a9ad6" stroke-width="0.8"/>
<text x="492.20" y="223.00" font-family='"Liberation Mono", monospace' font-size="4.08" text-anchor="start" fill="#888" stroke="#888" stroke-width="0.1" textLength="8.00" lengthAdjust="spacingAndGlyphs">CMSS</text>
<rect x="503.40" y="220.90" width="1.60" height="1.80" fill="#5050c0"/>
<line x1="505.00" y1="221.80" x2="546.00" y2="221.80" stroke="#9a9ad6" stroke-width="0.8"/>
<text x="285.50" y="227.20" font-family='"Liberation Mono", monospace' font-size="4.08" text-anchor="start" fill="#3a3a3a" stroke="#3a3a3a" stroke-width="0.1" textLength="46.40" lengthAdjust="spacingAndGlyphs">RefSeq genes from NCBI</text>
<rect x="117.20" y="228.50" width="39.60" height="2.20" fill="#12127a"/>
<line x1="159.50" y1="229.60" x2="546.00" y2="229.60" stroke="#5a5ab8" stroke-width="0.9"/>
<rect x="155.40" y="227.90" width="4.10" height="3.40" fill="#12127a"/>
<rect x="219.00" y="227.90" width="4.10" height="3.40" fill="#12127a"/>
<rect x="232.50" y="227.90" width="3.70" height="3.40" fill="#12127a"/>
<rect x="501.70" y="227.90" width="7.10" height="3.40" fill="#12127a"/>
<path d="M223.1,227.9 L226.9,229.6 L223.1,231.3 Z" fill="#12127a"/>
<path d="M250.0,227.9 L253.8,229.6 L250.0,231.3 Z" fill="#12127a"/>
<path d="M291.8,227.9 L295.6,229.6 L291.8,231.3 Z" fill="#12127a"/>
<path d="M493.5,227.9 L497.3,229.6 L493.5,231.3 Z" fill="#12127a"/>
<rect x="493.50" y="228.60" width="4.10" height="2.00" fill="#12127a"/>
<text x="258.00" y="234.40" font-family='"Liberation Mono", monospace' font-size="4.08" text-anchor="start" fill="#b8a000" stroke="#b8a000" stroke-width="0.1" textLength="101.10" lengthAdjust="spacingAndGlyphs">Reference Assembly Fix Patch Sequence Alignments</text>
<text x="218.20" y="238.50" font-family='"Liberation Mono", monospace' font-size="4.08" text-anchor="start" fill="#3a3a3a" stroke="#3a3a3a" stroke-width="0.1" textLength="180.80" lengthAdjust="spacingAndGlyphs">H3K27Ac Mark (Often Found Near Active Regulatory Elements) on 7 cell lines from ENCODE</text>
<rect x="71.00" y="249.80" width="5.00" height="1.30" fill="#d8c8d0"/>
<rect x="76.00" y="249.80" width="7.00" height="1.30" fill="#f4c0d0"/>
<rect x="86.00" y="249.80" width="12.00" height="1.30" fill="#c0ecf4"/>
<rect x="100.00" y="249.80" width="15.00" height="1.30" fill="#c8c8f0"/>
<rect x="115.00" y="249.80" width="20.00" height="1.30" fill="#e8b890"/>
<rect x="135.00" y="249.80" width="25.00" height="1.30" fill="#d0c0e0"/>
<rect x="160.00" y="249.80" width="25.00" height="1.30" fill="#d8d0b8"/>
<rect x="185.00" y="249.80" width="5.00" height="1.30" fill="#6060c0"/>
<rect x="190.00" y="249.80" width="4.26" height="1.30" fill="#f0c080"/>
<rect x="194.26" y="249.80" width="6.28" height="1.30" fill="#d8d8d8"/>
<rect x="200.55" y="249.80" width="4.33" height="1.30" fill="#f0c080"/>
<rect x="204.87" y="249.80" width="6.28" height="1.30" fill="#a8c8e8"/>
<rect x="211.15" y="249.80" width="2.92" height="1.30" fill="#f0c080"/>
<rect x="214.07" y="249.80" width="4.38" height="1.30" fill="#f0c080"/>
<rect x="218.45" y="249.80" width="5.96" height="1.30" fill="#e8a868"/>
<rect x="224.42" y="249.80" width="4.23" height="1.30" fill="#a8c8e8"/>
<rect x="228.65" y="249.80" width="2.45" height="1.30" fill="#d8d8d8"/>
<rect x="231.10" y="249.80" width="6.45" height="1.30" fill="#90c0e0"/>
<rect x="237.55" y="249.80" width="2.21" height="1.30" fill="#c0a0d8"/>
<rect x="239.76" y="249.80" width="6.82" height="1.30" fill="#90c0e0"/>
<rect x="246.59" y="249.80" width="5.69" height="1.30" fill="#90c0e0"/>
<rect x="252.28" y="249.80" width="2.79" height="1.30" fill="#e8a868"/>
<rect x="255.07" y="249.80" width="6.16" height="1.30" fill="#e8a868"/>
<rect x="261.23" y="249.80" width="2.30" height="1.30" fill="#a8c8e8"/>
<rect x="263.53" y="249.80" width="6.40" height="1.30" fill="#f0c080"/>
<rect x="269.92" y="249.80" width="2.15" height="1.30" fill="#c0a0d8"/>
<rect x="272.07" y="249.80" width="3.63" height="1.30" fill="#f0c080"/>
<rect x="275.71" y="249.80" width="6.21" height="1.30" fill="#f0c080"/>
<rect x="281.92" y="249.80" width="3.17" height="1.30" fill="#e8b0c0"/>
<rect x="285.09" y="249.80" width="4.50" height="1.30" fill="#90c0e0"/>
<rect x="289.59" y="249.80" width="2.42" height="1.30" fill="#90c0e0"/>
<rect x="292.01" y="249.80" width="3.39" height="1.30" fill="#f0c080"/>
<rect x="295.40" y="249.80" width="6.98" height="1.30" fill="#d8d8d8"/>
<rect x="302.38" y="249.80" width="2.42" height="1.30" fill="#e8b0c0"/>
<rect x="304.80" y="249.80" width="3.58" height="1.30" fill="#a8c8e8"/>
<rect x="308.37" y="249.80" width="4.56" height="1.30" fill="#e8a868"/>
<rect x="312.94" y="249.80" width="2.35" height="1.30" fill="#d8d8d8"/>
<rect x="315.29" y="249.80" width="2.54" height="1.30" fill="#e8a868"/>
<rect x="317.83" y="249.80" width="6.23" height="1.30" fill="#c0a0d8"/>
<rect x="324.06" y="249.80" width="2.33" height="1.30" fill="#e8a868"/>
<rect x="326.39" y="249.80" width="6.24" height="1.30" fill="#e8a868"/>
<rect x="332.63" y="249.80" width="3.07" height="1.30" fill="#e8a868"/>
<rect x="335.70" y="249.80" width="4.35" height="1.30" fill="#90c0e0"/>
<rect x="340.05" y="249.80" width="3.99" height="1.30" fill="#e8a868"/>
<rect x="344.04" y="249.80" width="4.83" height="1.30" fill="#a8c8e8"/>
<rect x="348.87" y="249.80" width="5.89" height="1.30" fill="#e8b0c0"/>
<rect x="354.76" y="249.80" width="3.68" height="1.30" fill="#e8b0c0"/>
<rect x="358.44" y="249.80" width="3.66" height="1.30" fill="#c0a0d8"/>
<rect x="362.11" y="249.80" width="5.79" height="1.30" fill="#e8a868"/>
<rect x="367.90" y="249.80" width="2.67" height="1.30" fill="#90c0e0"/>
<rect x="370.57" y="249.80" width="2.51" height="1.30" fill="#e8a868"/>
<rect x="373.07" y="249.80" width="4.32" height="1.30" fill="#c0a0d8"/>
<rect x="377.40" y="249.80" width="2.60" height="1.30" fill="#f0c080"/>
<rect x="436.00" y="249.80" width="14.00" height="1.30" fill="#40b8d0"/>
<rect x="450.00" y="249.80" width="5.00" height="1.30" fill="#c0c0c0"/>
<rect x="455.00" y="249.80" width="33.00" height="1.30" fill="#e8b040"/>
<rect x="488.00" y="249.80" width="12.00" height="1.30" fill="#303088"/>
<rect x="500.00" y="249.80" width="6.00" height="1.30" fill="#40c0c8"/>
<rect x="506.00" y="249.80" width="12.00" height="1.30" fill="#7040a0"/>
<rect x="518.00" y="249.80" width="28.00" height="1.30" fill="#e8b830"/>
<polygon points="380.9,250.6 386.0,248.5 390.0,245.5 393.0,242.0 395.8,239.6 398.0,242.5 400.0,244.5 402.0,242.0 405.5,239.6 408.5,240.5 410.9,239.1 421.5,239.1 424.5,245.2 427.0,247.0 430.0,248.2 435.5,250.6" fill="#38c8ef"/>
<line x1="410.90" y1="239.00" x2="421.50" y2="239.00" stroke="#9a3fd0" stroke-width="0.7"/>
<polygon points="488.0,250.6 494.0,249.0 500.0,250.6" fill="#d0a040" opacity="0.8"/>
<polygon points="500.0,250.6 504.0,248.4 508.0,250.6" fill="#40b8c8" opacity="0.8"/>
<polygon points="506.0,250.6 511.0,248.0 516.0,250.6" fill="#9060b0" opacity="0.8"/>
<polygon points="512.0,250.6 516.0,248.6 520.0,250.6" fill="#f0c040" opacity="0.8"/>
<polygon points="519.0,250.6 524.5,249.2 530.0,250.6" fill="#f0c040" opacity="0.8"/>
<polygon points="530.0,250.6 537.5,249.6 545.0,250.6" fill="#f0c860" opacity="0.8"/>
<text x="272.70" y="254.40" font-family='"Liberation Mono", monospace' font-size="4.08" text-anchor="start" fill="#3a3a3a" stroke="#3a3a3a" stroke-width="0.1" textLength="71.80" lengthAdjust="spacingAndGlyphs">Repeating Elements by RepeatMasker</text>
<rect x="227.20" y="255.10" width="0.80" height="3.20" fill="#000"/>
<rect x="252.40" y="255.10" width="6.60" height="3.20" fill="#000"/>
<rect x="260.90" y="255.10" width="6.40" height="3.20" fill="#000"/>
<rect x="314.90" y="255.10" width="6.60" height="3.20" fill="#000"/>
<rect x="322.00" y="255.10" width="6.70" height="3.20" fill="#000"/>
<rect x="332.20" y="255.10" width="9.60" height="3.20" fill="#000"/>
<rect x="347.80" y="255.10" width="2.20" height="3.20" fill="#000"/>
<rect x="354.00" y="255.10" width="12.40" height="3.20" fill="#000"/>
<rect x="373.60" y="255.10" width="8.20" height="3.20" fill="#000"/>
<rect x="391.30" y="255.10" width="16.00" height="3.20" fill="#000"/>
<rect x="412.20" y="255.10" width="3.30" height="3.20" fill="#000"/>
<rect x="439.10" y="255.10" width="7.30" height="3.20" fill="#000"/>
<rect x="460.90" y="255.10" width="3.70" height="3.20" fill="#000"/>
<rect x="497.60" y="255.10" width="3.00" height="3.20" fill="#000"/>
<rect x="502.00" y="255.10" width="0.60" height="3.20" fill="#000"/>
<rect x="512.00" y="255.10" width="7.70" height="3.20" fill="#000"/>
<rect x="22.90" y="164.90" width="523.60" height="94.30" fill="none" stroke="#9a9a9a" stroke-width="1.5"/>
<rect x="3.70" y="272.60" width="13.90" height="12.40" fill="#fff" stroke="#4a4a4a" stroke-width="0.9"/>
<text x="10.65" y="281.70" font-size="8.0" text-anchor="middle" fill="#000">E</text>
<rect x="22.00" y="272.70" width="241.00" height="168.80" fill="#fff" stroke="#c8c8c8" stroke-width="1"/>
<rect x="74.00" y="346.75" width="7.30" height="52.85" fill="#000"/>
<rect x="85.40" y="320.85" width="7.30" height="78.75" fill="#9b9b9d"/>
<line x1="89.05" y1="320.85" x2="89.05" y2="319.80" stroke="#222" stroke-width="0.8"/>
<line x1="86.85" y1="319.80" x2="91.25" y2="319.80" stroke="#222" stroke-width="0.8"/>
<rect x="104.05" y="346.75" width="7.30" height="52.85" fill="#000"/>
<rect x="115.45" y="340.41" width="7.30" height="59.19" fill="#9b9b9d"/>
<line x1="119.10" y1="340.41" x2="119.10" y2="336.18" stroke="#222" stroke-width="0.8"/>
<line x1="116.90" y1="336.18" x2="121.30" y2="336.18" stroke="#222" stroke-width="0.8"/>
<rect x="134.10" y="346.75" width="7.30" height="52.85" fill="#000"/>
<rect x="145.50" y="341.47" width="7.30" height="58.13" fill="#9b9b9d"/>
<line x1="149.15" y1="341.47" x2="149.15" y2="338.29" stroke="#222" stroke-width="0.8"/>
<line x1="146.95" y1="338.29" x2="151.35" y2="338.29" stroke="#222" stroke-width="0.8"/>
<rect x="164.15" y="346.75" width="7.30" height="52.85" fill="#000"/>
<rect x="175.55" y="316.89" width="7.30" height="82.71" fill="#9b9b9d"/>
<line x1="179.20" y1="316.89" x2="179.20" y2="316.36" stroke="#222" stroke-width="0.8"/>
<line x1="177.00" y1="316.36" x2="181.40" y2="316.36" stroke="#222" stroke-width="0.8"/>
<rect x="194.20" y="346.75" width="7.30" height="52.85" fill="#000"/>
<rect x="205.60" y="341.99" width="7.30" height="57.61" fill="#9b9b9d"/>
<line x1="209.25" y1="341.99" x2="209.25" y2="341.47" stroke="#222" stroke-width="0.8"/>
<line x1="207.05" y1="341.47" x2="211.45" y2="341.47" stroke="#222" stroke-width="0.8"/>
<line x1="70.00" y1="293.40" x2="70.00" y2="400.20" stroke="#000" stroke-width="1.3"/>
<line x1="69.40" y1="399.60" x2="217.60" y2="399.60" stroke="#000" stroke-width="1.3"/>
<line x1="65.00" y1="293.90" x2="70.00" y2="293.90" stroke="#000" stroke-width="1.2"/>
<text x="62.80" y="296.80" font-size="8.2" text-anchor="end" font-weight="bold" fill="#000">2.0</text>
<line x1="65.00" y1="320.33" x2="70.00" y2="320.33" stroke="#000" stroke-width="1.2"/>
<text x="62.80" y="323.23" font-size="8.2" text-anchor="end" font-weight="bold" fill="#000">1.5</text>
<line x1="65.00" y1="346.75" x2="70.00" y2="346.75" stroke="#000" stroke-width="1.2"/>
<text x="62.80" y="349.65" font-size="8.2" text-anchor="end" font-weight="bold" fill="#000">1.0</text>
<line x1="65.00" y1="373.18" x2="70.00" y2="373.18" stroke="#000" stroke-width="1.2"/>
<text x="62.80" y="376.07" font-size="8.2" text-anchor="end" font-weight="bold" fill="#000">0.5</text>
<line x1="65.00" y1="399.60" x2="70.00" y2="399.60" stroke="#000" stroke-width="1.2"/>
<text x="62.80" y="402.50" font-size="8.2" text-anchor="end" font-weight="bold" fill="#000">0.0</text>
<line x1="83.30" y1="399.60" x2="83.30" y2="402.80" stroke="#000" stroke-width="1.2"/>
<line x1="113.40" y1="399.60" x2="113.40" y2="402.80" stroke="#000" stroke-width="1.2"/>
<line x1="143.50" y1="399.60" x2="143.50" y2="402.80" stroke="#000" stroke-width="1.2"/>
<line x1="173.60" y1="399.60" x2="173.60" y2="402.80" stroke="#000" stroke-width="1.2"/>
<line x1="203.70" y1="399.60" x2="203.70" y2="402.80" stroke="#000" stroke-width="1.2"/>
<text x="85.90" y="407.20" font-size="7.6" font-weight="bold" text-anchor="end" textLength="23.0" lengthAdjust="spacingAndGlyphs" transform="rotate(-45 85.90 407.20)">E2F1</text>
<text x="116.00" y="407.20" font-size="7.6" font-weight="bold" text-anchor="end" textLength="40.0" lengthAdjust="spacingAndGlyphs" transform="rotate(-45 116.00 407.20)">DBNDD1</text>
<text x="146.10" y="407.20" font-size="7.6" font-weight="bold" text-anchor="end" textLength="14.0" lengthAdjust="spacingAndGlyphs" transform="rotate(-45 146.10 407.20)">AR</text>
<text x="176.20" y="407.20" font-size="7.6" font-weight="bold" text-anchor="end" textLength="25.6" lengthAdjust="spacingAndGlyphs" transform="rotate(-45 176.20 407.20)">KLK3</text>
<text x="206.30" y="407.20" font-size="7.6" font-weight="bold" text-anchor="end" textLength="45.0" lengthAdjust="spacingAndGlyphs" transform="rotate(-45 206.30 407.20)">TMPRSS2</text>
<text x="44.60" y="345.00" font-size="8.6" text-anchor="middle" font-weight="bold" fill="#000" textLength="110.50" lengthAdjust="spacingAndGlyphs" transform="rotate(-90 44.60 345.00)">Relative mRNA expression</text>
<line x1="78.00" y1="314.80" x2="89.70" y2="314.80" stroke="#333" stroke-width="0.8"/>
<text x="83.85" y="312.60" font-size="7" text-anchor="middle" font-weight="bold" fill="#000">**</text>
<line x1="168.20" y1="313.30" x2="177.00" y2="313.30" stroke="#333" stroke-width="0.8"/>
<text x="172.60" y="311.40" font-size="7" text-anchor="middle" font-weight="bold" fill="#000">***</text>
<line x1="198.20" y1="338.00" x2="209.70" y2="338.00" stroke="#333" stroke-width="0.8"/>
<text x="203.95" y="335.80" font-size="7" text-anchor="middle" font-weight="bold" fill="#000">**</text>
<rect x="175.30" y="280.20" width="13.70" height="4.60" fill="#000"/>
<rect x="175.30" y="290.90" width="13.70" height="5.10" fill="#9b9b9d"/>
<text x="195.70" y="285.60" font-size="9.6" text-anchor="start" fill="#000" textLength="46.30" lengthAdjust="spacingAndGlyphs">LNCaP/EV</text>
<text x="195.70" y="296.80" font-size="9.6" text-anchor="start" fill="#000" textLength="60.80" lengthAdjust="spacingAndGlyphs">LNCaP/E2F1</text>
<rect x="279.60" y="272.60" width="13.70" height="13.40" fill="#fff" stroke="#4a4a4a" stroke-width="0.9"/>
<text x="286.45" y="282.40" font-size="8.0" text-anchor="middle" fill="#000">F</text>
<rect x="297.50" y="272.30" width="245.70" height="169.20" fill="#fff" stroke="#c8c8c8" stroke-width="1"/>
<rect x="349.00" y="374.27" width="16.10" height="45.33" fill="#000"/>
<rect x="373.60" y="336.65" width="16.00" height="82.95" fill="#9b9b9d"/>
<line x1="381.60" y1="336.65" x2="381.60" y2="333.47" stroke="#222" stroke-width="1.0"/>
<line x1="377.60" y1="333.47" x2="385.60" y2="333.47" stroke="#222" stroke-width="1.0"/>
<rect x="415.20" y="374.27" width="16.10" height="45.33" fill="#000"/>
<rect x="439.80" y="340.27" width="16.00" height="79.33" fill="#9b9b9d"/>
<line x1="447.80" y1="340.27" x2="447.80" y2="334.83" stroke="#222" stroke-width="1.0"/>
<line x1="443.80" y1="334.83" x2="451.80" y2="334.83" stroke="#222" stroke-width="1.0"/>
<rect x="481.40" y="374.27" width="16.10" height="45.33" fill="#000"/>
<rect x="506.00" y="366.79" width="16.00" height="52.81" fill="#9b9b9d"/>
<line x1="514.00" y1="366.79" x2="514.00" y2="363.39" stroke="#222" stroke-width="1.0"/>
<line x1="510.00" y1="363.39" x2="518.00" y2="363.39" stroke="#222" stroke-width="1.0"/>
<line x1="340.50" y1="283.01" x2="340.50" y2="420.20" stroke="#000" stroke-width="1.3"/>
<line x1="339.90" y1="419.60" x2="532.30" y2="419.60" stroke="#000" stroke-width="1.3"/>
<line x1="334.70" y1="419.60" x2="340.50" y2="419.60" stroke="#000" stroke-width="1.2"/>
<text x="332.60" y="423.10" font-size="9.8" text-anchor="end" font-weight="bold" fill="#000">0</text>
<line x1="334.70" y1="374.27" x2="340.50" y2="374.27" stroke="#000" stroke-width="1.2"/>
<text x="332.60" y="377.77" font-size="9.8" text-anchor="end" font-weight="bold" fill="#000">1</text>
<line x1="334.70" y1="328.94" x2="340.50" y2="328.94" stroke="#000" stroke-width="1.2"/>
<text x="332.60" y="332.44" font-size="9.8" text-anchor="end" font-weight="bold" fill="#000">2</text>
<line x1="334.70" y1="283.61" x2="340.50" y2="283.61" stroke="#000" stroke-width="1.2"/>
<text x="332.60" y="287.11" font-size="9.8" text-anchor="end" font-weight="bold" fill="#000">3</text>
<line x1="369.40" y1="419.60" x2="369.40" y2="424.20" stroke="#000" stroke-width="1.2"/>
<text x="369.40" y="436.10" font-size="10.2" text-anchor="middle" font-weight="bold" fill="#000" textLength="26.00" lengthAdjust="spacingAndGlyphs">E2F1</text>
<line x1="435.55" y1="419.60" x2="435.55" y2="424.20" stroke="#000" stroke-width="1.2"/>
<text x="435.55" y="436.10" font-size="10.2" text-anchor="middle" font-weight="bold" fill="#000" textLength="44.70" lengthAdjust="spacingAndGlyphs">DBNDD1</text>
<line x1="501.70" y1="419.60" x2="501.70" y2="424.20" stroke="#000" stroke-width="1.2"/>
<text x="501.70" y="436.10" font-size="10.2" text-anchor="middle" font-weight="bold" fill="#000" textLength="15.00" lengthAdjust="spacingAndGlyphs">AR</text>
<text x="320.00" y="351.50" font-size="11.0" text-anchor="middle" font-weight="bold" fill="#000" textLength="142.30" lengthAdjust="spacingAndGlyphs" transform="rotate(-90 320.00 351.50)">Relative mRNA expression</text>
<line x1="361.50" y1="326.30" x2="378.90" y2="326.30" stroke="#333" stroke-width="0.8"/>
<text x="370.20" y="324.90" font-size="12.5" text-anchor="middle" font-weight="bold" fill="#000">**</text>
<line x1="429.50" y1="326.70" x2="446.40" y2="326.70" stroke="#333" stroke-width="0.8"/>
<text x="437.95" y="325.10" font-size="12.5" text-anchor="middle" font-weight="bold" fill="#000">*</text>
<rect x="451.80" y="279.50" width="15.00" height="6.10" fill="#000"/>
<rect x="451.80" y="293.20" width="15.00" height="6.30" fill="#9b9b9d"/>
<text x="475.00" y="287.00" font-size="11.6" text-anchor="start" fill="#000" textLength="45.00" lengthAdjust="spacingAndGlyphs">C4-2/EV</text>
<text x="475.00" y="300.70" font-size="11.6" text-anchor="start" fill="#000" textLength="59.20" lengthAdjust="spacingAndGlyphs">C4-2/E2F1</text>
</svg>
</body></html>
